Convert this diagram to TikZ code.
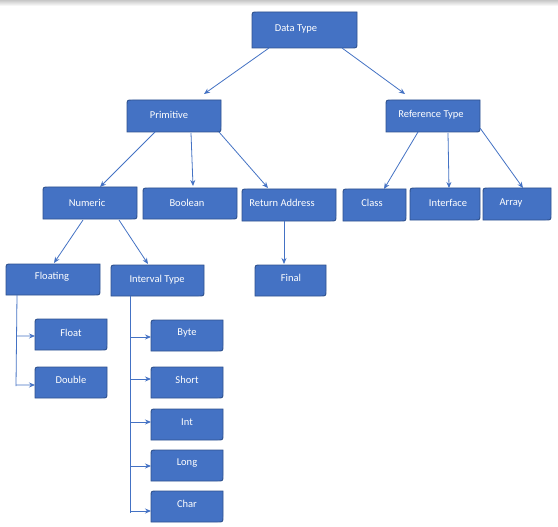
\documentclass[tikz,border=0pt]{standalone}
\usepackage{fontspec}
\setmainfont{Carlito}
\usetikzlibrary{calc,arrows.meta}
\definecolor{boxfill}{HTML}{4472C4}
\definecolor{boxedge}{HTML}{2F528F}
\definecolor{linecol}{HTML}{4472C4}
\tikzset{
  boxnode/.style={draw=none, inner sep=0pt, outer sep=0pt, anchor=north west},
  boxshape/.style={fill=boxfill, draw=boxedge, line width=0.9bp},
  boxtext/.style={text=white, inner sep=0pt, yshift=-1.2bp, font=\fontsize{10.5bp}{12bp}\selectfont},
  conn/.style={draw=linecol, line width=0.8bp},
  arr/.style={conn, -{Stealth[length=6bp,width=5bp]}}
}
% name, x1, y1, x2, y2, text, tx, ty
\newcommand\mkbox[8]{%
  \node[boxnode, minimum width={#4bp-#2bp}, minimum height={#5bp-#3bp}] (#1) at (#2,#3) {};
  \path[boxshape] ([yshift=-5.5bp]#1.north west) .. controls (#1.north west) .. ([xshift=5.5bp]#1.north west)
    -- (#1.north east) -- ([yshift=5.5bp]#1.south east) .. controls (#1.south east) .. ([xshift=-5.5bp]#1.south east)
    -- (#1.south west) -- cycle;
  \node[boxtext] (#1-t) at (#7,#8) {#6};
}
\begin{document}
\begin{tikzpicture}[x=1bp,y=-1bp]
\useasboundingbox (0,0) rectangle (558,527);
\fill[white] (0,0) rectangle (558,527);
\shade[top color=black!22, bottom color=white] (0,0) rectangle (558,6);

\mkbox{dt}{252}{12}{357}{48}{Data Type}{296}{28}
\mkbox{prim}{127}{100}{221}{132}{Primitive}{169}{114}
\mkbox{ref}{386}{100}{480}{132}{Reference Type}{431}{114}
\mkbox{num}{43}{187}{137}{219}{Numeric}{87}{202}
\mkbox{bool}{143}{188}{237}{219}{Boolean}{187}{202}
\mkbox{ra}{242}{189}{336}{221}{Return Address}{282}{202}
\mkbox{cls}{343}{189}{406}{221}{Class}{372}{202}
\mkbox{intf}{410}{188}{480}{220}{Interface}{448}{202}
\mkbox{arr}{483}{188}{551}{220}{Array}{511}{202}
\mkbox{flt}{6}{264}{100}{295}{Floating}{52}{276}
\mkbox{ivt}{111}{265}{204}{296}{Interval Type}{157}{278}
\mkbox{fin}{255}{265}{326}{296}{Final}{291}{277}
\mkbox{fl}{35}{319}{107}{350}{Float}{71}{332}
\mkbox{dbl}{35}{367}{107}{398}{Double}{71}{379}
\mkbox{byte}{151}{320}{223}{351}{Byte}{187}{332}
\mkbox{short}{151}{367}{223}{398}{Short}{187}{379}
\mkbox{int}{151}{409}{223}{440}{Int}{187}{421}
\mkbox{long}{151}{450}{223}{481}{Long}{187}{462}
\mkbox{char}{151}{491}{223}{522}{Char}{187}{503}

% tree arrows
\draw[arr] ($(dt.south west)+(17,0)$) -- ($(prim.north west)+(77,-6)$);
\draw[arr] ($(dt.south west)+(90,0)$) -- ($(ref.north west)+(19,-6)$);
\draw[arr] ($(prim.south west)+(28,0)$) -- ($(num.north west)+(57,0)$);
\draw[arr] ($(prim.south west)+(64,1)$) -- ($(bool.north west)+(50,-2)$);
\draw[arr] ($(prim.south west)+(92,0)$) -- ($(ra.north west)+(26,-1)$);
\draw[arr] ($(ref.south west)+(32,0)$) -- ($(cls.north west)+(41,0)$);
\draw[arr] ($(ref.south west)+(62,1)$) -- ($(intf.north west)+(39,0)$);
\draw[arr] ($(ref.south east)+(0,-4)$) -- ($(arr.north west)+(40,0)$);
\draw[arr] ($(ra.south west)+(42,0)$) -- ($(fin.north west)+(29,-1)$);
\draw[arr] ($(num.south west)+(40,1)$) -- ($(flt.north west)+(48,-1)$);
\draw[arr] ($(num.south west)+(76,1)$) -- ($(ivt.north west)+(37,-1)$);

% Floating trunk
\coordinate (ft) at ($(flt.south west)+(11,0)$);
\coordinate (fe) at ($(ft)+(-1,91)$);
\draw[conn] (ft) -- (fe);
\draw[arr] ($(ft)+(0,41)$) -- ($(fl.west)+(0,1.5)$);
\draw[arr] ($(fe)+(0,-1)$) -- ($(dbl.west)+(0,2.5)$);

% Interval trunk
\coordinate (it) at ($(ivt.south west)+(19,0)$);
\coordinate (ie) at ($(it)+(0,217)$);
\draw[conn] (it) -- (ie);
\draw[arr] (it |- 0,337) -- (byte.west |- 0,337);
\draw[arr] (it |- 0,379) -- (short.west |- 0,379);
\draw[arr] (it |- 0,422) -- (int.west |- 0,422);
\draw[arr] (it |- 0,466) -- (long.west |- 0,466);
\draw[arr] (it |- 0,511) -- (char.west |- 0,511);
\end{tikzpicture}
\end{document}
